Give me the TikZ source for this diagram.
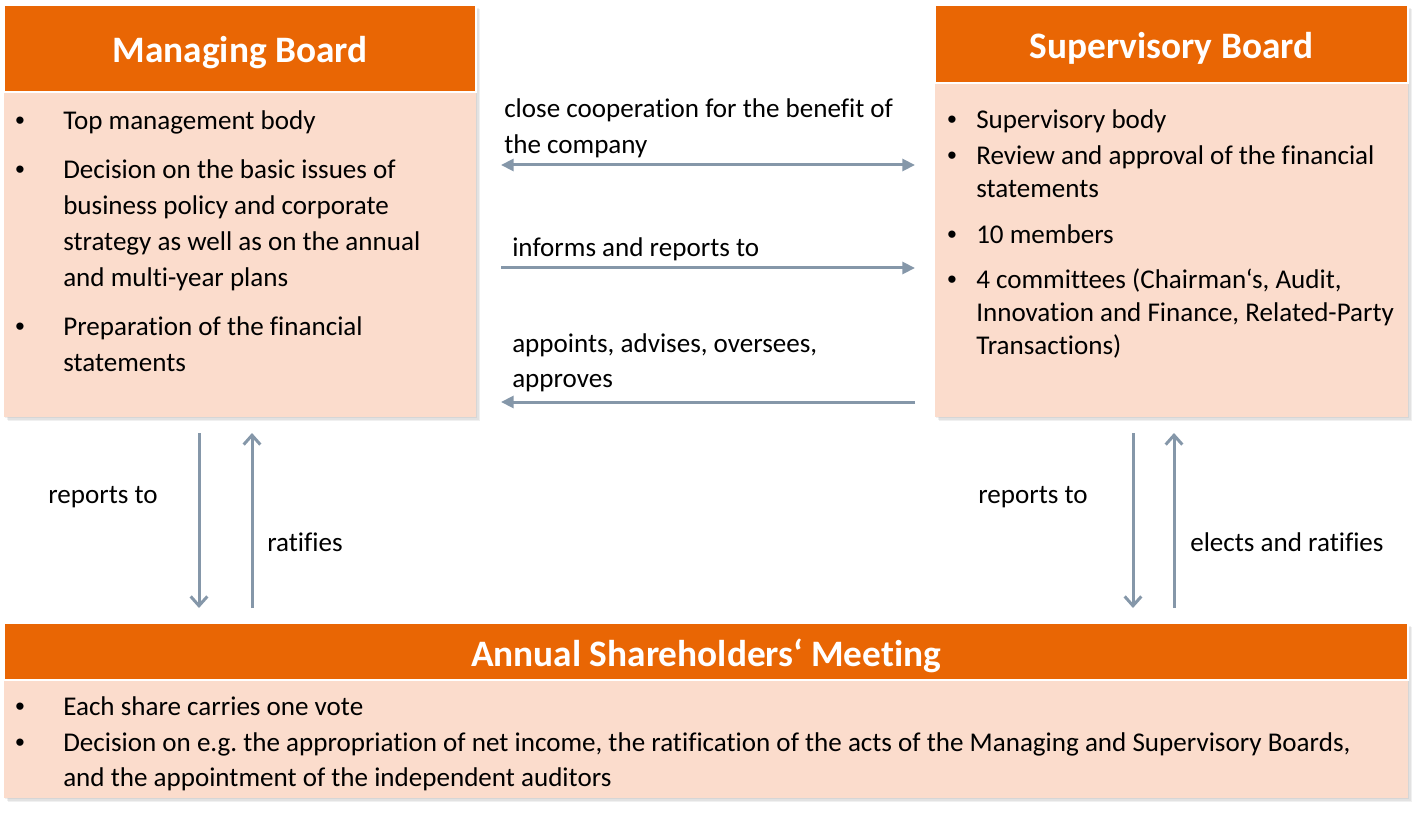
\documentclass[tikz,border=0pt]{standalone}
\usepackage{fontspec}
\setmainfont{Carlito}[Ligatures=CommonOff]
\newfontfamily\bulletfont{Liberation Sans}
\usetikzlibrary{arrows.meta,shadows,fit}
\definecolor{boardorange}{RGB}{233,102,4}
\definecolor{boardpeach}{RGB}{251,220,204}
\definecolor{linkgray}{RGB}{133,151,169}
\newcommand{\boxlines}[2][420pt]{\parbox[t]{#1}{#2}}
\frenchspacing

\begin{document}
\begin{tikzpicture}[x=0.75pt,y=-0.75pt,
	softshadow/.style={drop shadow={opacity=0.12,shadow xshift=1pt,shadow yshift=-1pt},
		drop shadow={opacity=0.12,shadow xshift=2pt,shadow yshift=-2pt},
		drop shadow={opacity=0.12,shadow xshift=3pt,shadow yshift=-3pt}},
	body/.style={inner sep=0pt,fill=boardpeach,softshadow},
	head/.style={inner sep=0pt,fill=boardorange,draw=white,line width=1.5pt},
	title/.style={anchor=base,inner sep=0pt,text=white,font=\fontsize{28}{33}\selectfont\bfseries},
	txt/.style={anchor=base west,inner sep=0pt,font=\fontsize{20.3}{27}\selectfont},
	txtr/.style={txt,font=\fontsize{20.3}{24.4}\selectfont},
	txtb/.style={txt,font=\fontsize{20.3}{26.3}\selectfont},
	dot/.style={anchor=base,inner sep=0pt,font=\fontsize{20}{27}\bulletfont},
	link/.style={draw=linkgray,line width=2.25pt},
	htip/.style={-{Triangle[length=9.5pt,width=9pt]}},
	vtip/.style={-{Straight Barb[length=7pt,width=12.5pt]}}]
	\useasboundingbox (0,0) rectangle (1422,813);

	% boxes
	\node (mbbody) [body,fit={(4,5) (476,417)}] {};
	\node (mbhead) [head,fit={(4,5) (476,92)}] {};
	\node (sbbody) [body,fit={(935,5) (1408,417)}] {};
	\node (sbhead) [head,fit={(935,5) (1408,83)}] {};
	\node (asbody) [body,fit={(4,623) (1408,798)}] {};
	\node (ashead) [head,fit={(4,623) (1408,680)}] {};

	\node (mbtitle) at (240,63) [title] {Managing Board};
	\node (sbtitle) at (1171.5,59) [title] {Supervisory Board};
	\node (astitle) at (706,666) [title] {Annual Shareholders‘ Meeting};

	% managing board
	\node (mbdot1) at (20,130) [dot] {•};
	\node (mbitem1) at (63,130) [txt] {Top management body};
	\node (mbdot2) at (20,179) [dot] {•};
	\node (mbitem2) at (63,179) [txt] {\boxlines{Decision on the basic issues of\\business policy and corporate\\strategy as well as on the annual\\and multi-year plans}};
	\node (mbdot3) at (20,335) [dot] {•};
	\node (mbitem3) at (63,335) [txt] {\boxlines{Preparation of the financial\\statements}};

	% supervisory board
	\node (sbdot1) at (952,129) [dot] {•};
	\node (sbitem1) at (976,129) [txtr] {Supervisory body};
	\node (sbdot2) at (952,165) [dot] {•};
	\node (sbitem2) at (976,165) [txtr] {\boxlines{Review and approval of the financial\\statements}};
	\node (sbdot3) at (952,244) [dot] {•};
	\node (sbitem3) at (976,244) [txtr] {10 members};
	\node (sbdot4) at (952,289) [dot] {•};
	\node (sbitem4) at (976,289) [txtr] {\boxlines{4 committees (Chairman‘s, Audit,\\Innovation and Finance, Related-Party\\Transactions)}};

	% shareholders meeting
	\node (asdot1) at (20,715) [dot] {•};
	\node (asitem1) at (63,715) [txtb] {Each share carries one vote};
	\node (asdot2) at (20,751) [dot] {•};
	\node (asitem2) at (63,751) [txtb] {\boxlines[1100pt]{Decision on e.g. the appropriation of net income, the ratification of the acts of the Managing and Supervisory Boards,\\and the appointment of the independent auditors}};

	% labels
	\node (coop) at (504,118) [txt] {\boxlines{close cooperation for the benefit of\\the company}};
	\node (informs) at (512,257) [txt] {informs and reports to};
	\node (appoints) at (512,352) [txt] {\boxlines{appoints, advises, oversees,\\approves}};
	\node (mbreports) at (48,503) [txt] {reports to};
	\node (ratifies) at (267,551) [txt] {ratifies};
	\node (sbreports) at (978,503) [txt] {reports to};
	\node (elects) at (1190,551) [txt] {elects and ratifies};

	% arrow ends
	\coordinate (coopL) at (501,165);
	\coordinate (coopR) at (915,165);
	\coordinate (infoL) at (501,268);
	\coordinate (infoR) at (915,268);
	\coordinate (apptL) at (501,402);
	\coordinate (apptR) at (915,402);
	\coordinate (mbrepT) at (199,433);
	\coordinate (mbrepB) at (199,608);
	\coordinate (mbratT) at (252,433);
	\coordinate (mbratB) at (252,608);
	\coordinate (sbrepT) at (1133,433);
	\coordinate (sbrepB) at (1133,608);
	\coordinate (sbelT) at (1174,433);
	\coordinate (sbelB) at (1174,608);

	\draw [link,{Triangle[length=9.5pt,width=9pt]}-{Triangle[length=9.5pt,width=9pt]}] (coopL) -- (coopR);
	\draw [link,htip] (infoL) -- (infoR);
	\draw [link,htip] (apptR) -- (apptL);
	\draw [link,vtip] (mbrepT) -- (mbrepB);
	\draw [link,vtip] (mbratB) -- (mbratT);
	\draw [link,vtip] (sbrepT) -- (sbrepB);
	\draw [link,vtip] (sbelB) -- (sbelT);
\end{tikzpicture}
\end{document}
